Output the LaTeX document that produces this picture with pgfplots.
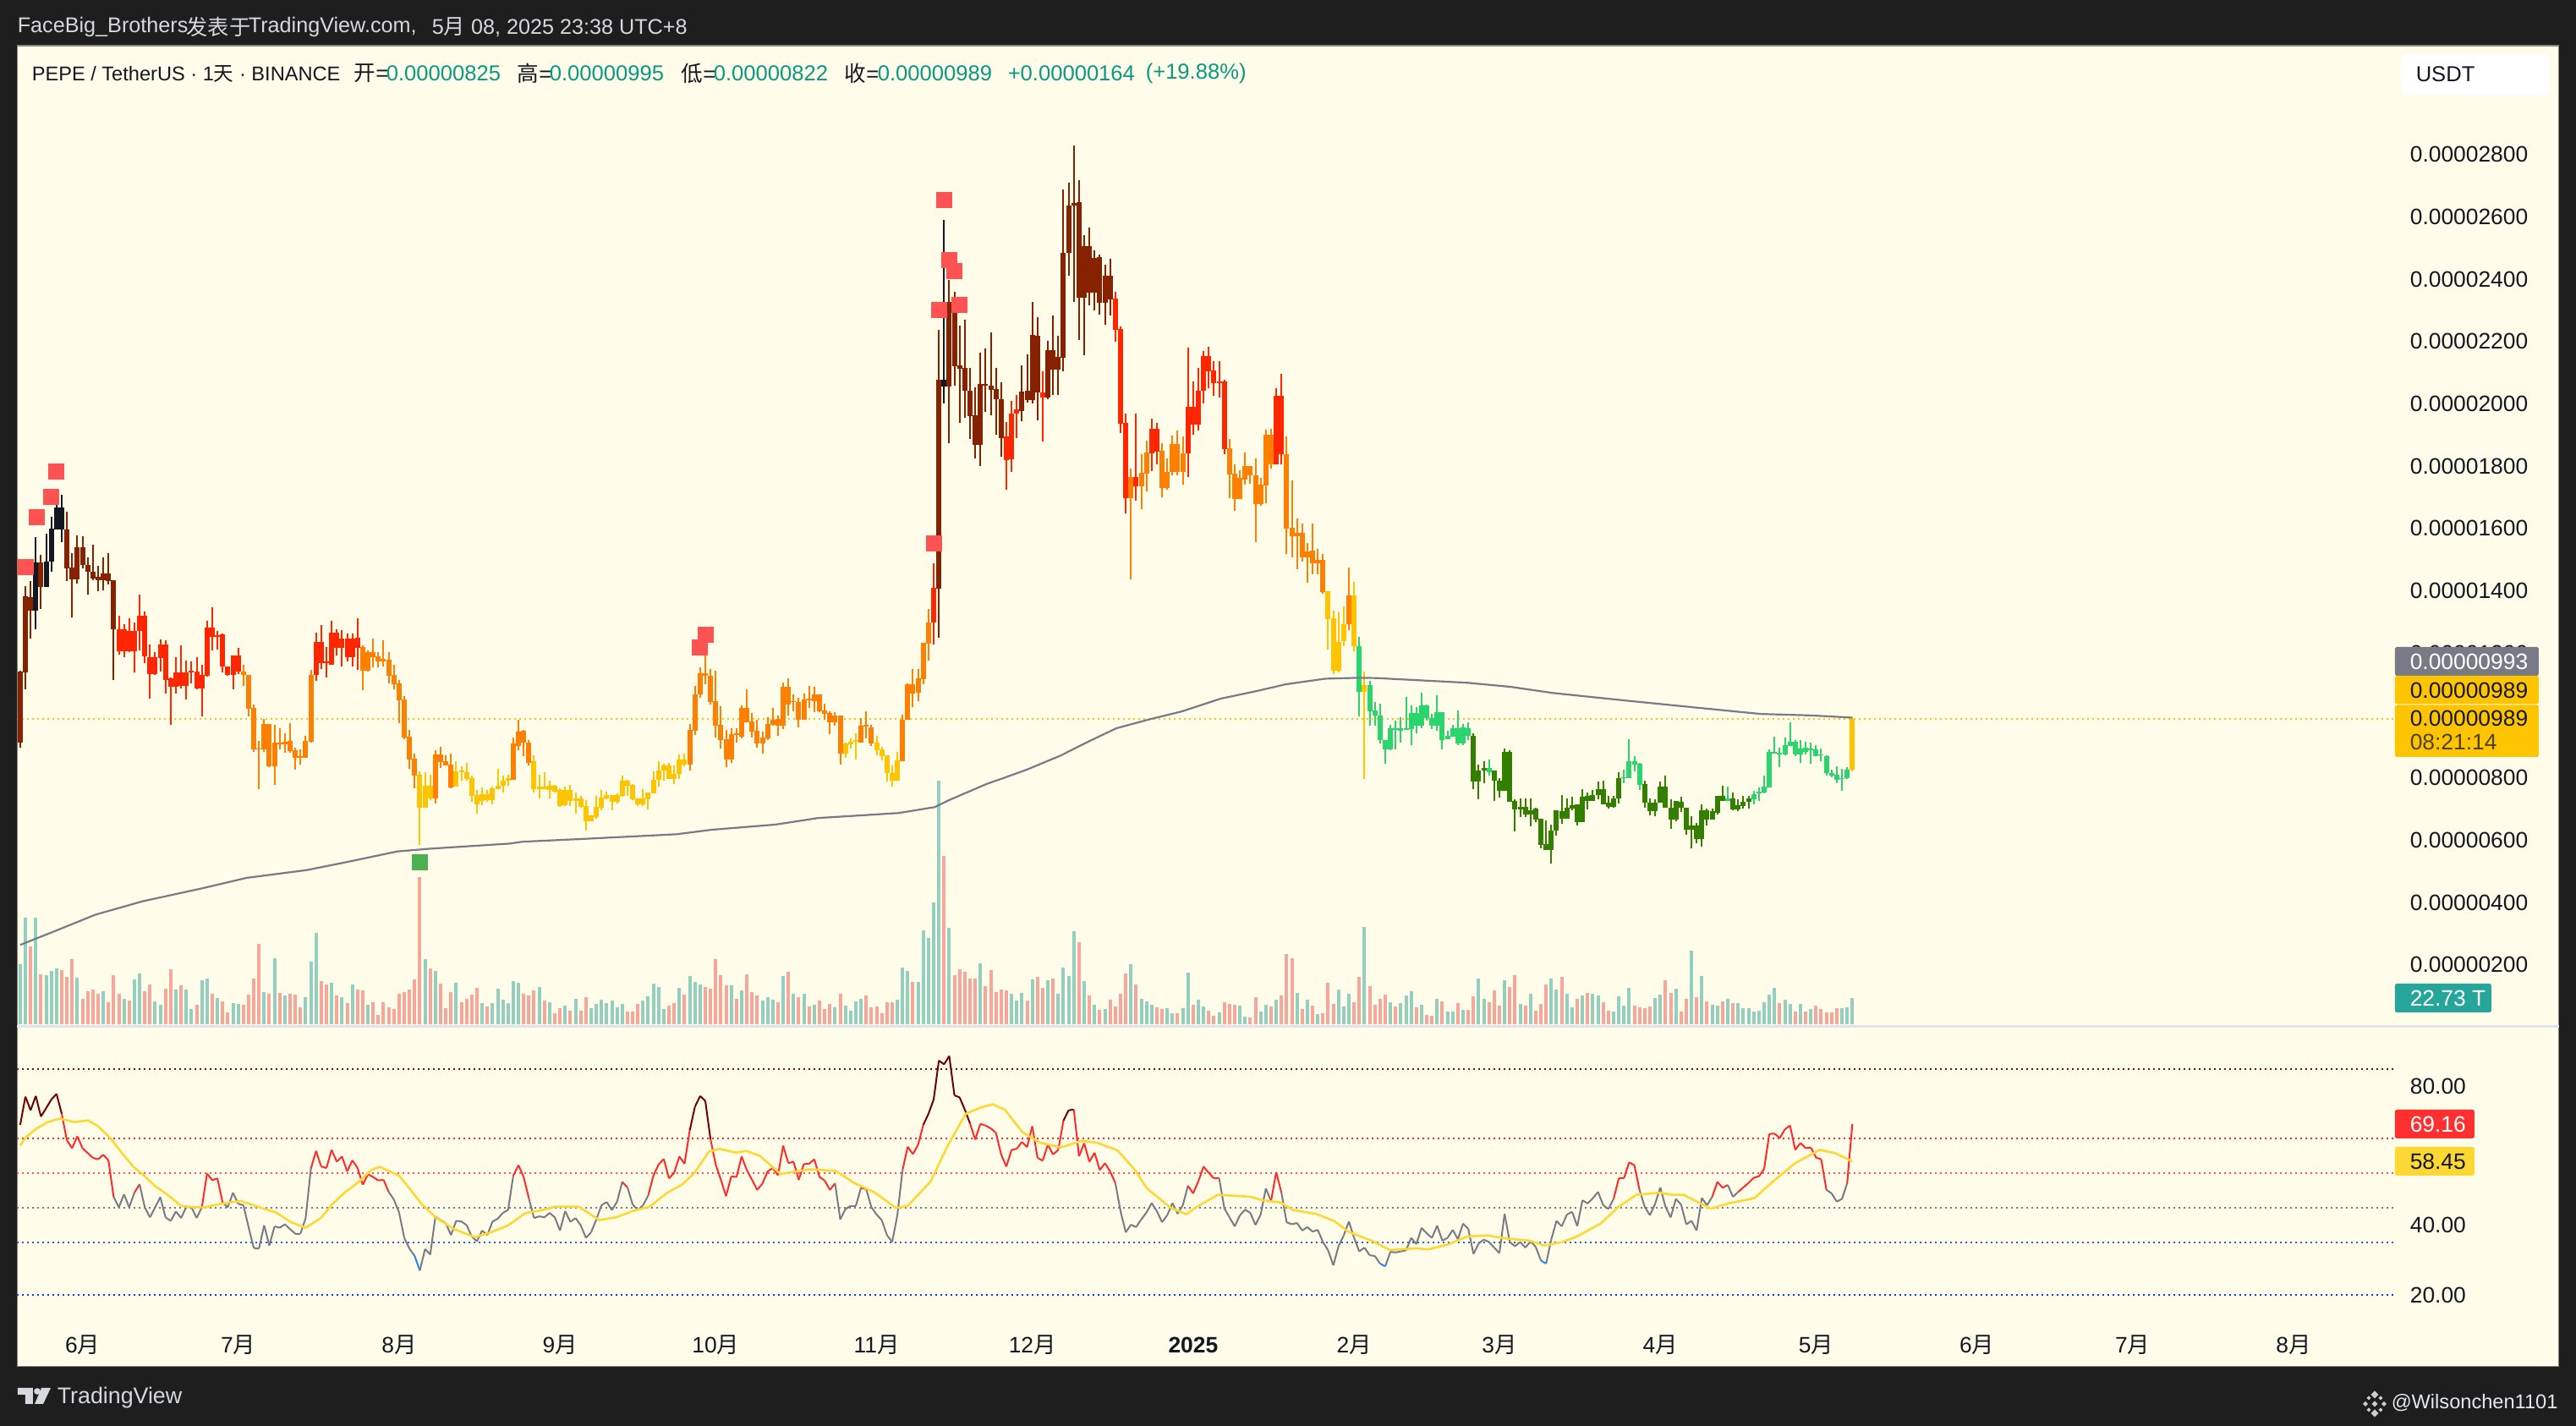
\documentclass[border=0pt]{standalone}
\usepackage{fontspec}
\usepackage{pgfplots}
\usepackage{pgfplotstable}
\pgfplotsset{compat=1.18}
\setmainfont{Liberation Sans}
\newfontfamily\cjk{Noto Sans CJK SC}
\newcommand\fs[1]{\fontsize{#1bp}{#1bp}\selectfont}
\definecolor{darkbg}{HTML}{1E1E1E}
\definecolor{cream}{HTML}{FFFDE9}
\definecolor{frame}{HTML}{85857C}
\definecolor{ink}{HTML}{131722}
\definecolor{lightink}{HTML}{D6D8DE}
\definecolor{upg}{HTML}{089981}
\definecolor{cbrown}{HTML}{862200}
\definecolor{cblack}{HTML}{131722}
\definecolor{cred}{HTML}{FF2600}
\definecolor{corange}{HTML}{FF8000}
\definecolor{cyellow}{HTML}{FFC400}
\definecolor{cgreen}{HTML}{2AD56D}
\definecolor{cdark}{HTML}{338000}
\definecolor{volg}{HTML}{92CFC0}
\definecolor{volr}{HTML}{F7A69B}
\definecolor{sqr}{HTML}{FF5252}
\definecolor{sqg}{HTML}{4CAF50}
\definecolor{gma}{HTML}{787B86}
\definecolor{yma}{HTML}{FDD835}
\definecolor{sepc}{HTML}{E0E3EB}
\definecolor{tealb}{HTML}{26A69A}
\definecolor{redb}{HTML}{FF3030}
\definecolor{lvA}{HTML}{8B0000}
\definecolor{lvB}{HTML}{FF2A2A}
\definecolor{lvE}{HTML}{2962C0}
\definecolor{lvF}{HTML}{0A3CE6}
\definecolor{bnb}{HTML}{CDCDCD}
% i: day index, t/b: body top/bottom, h/l: high/low (1e-6 USDT), c: colour class,
% v: volume (T), k: 0 up 1 down, r: RSI
\pgfplotstableread{
i t b h l c v k r
0 11.40 9.13 11.45 8.97 0 51.6 0 68.9
1 13.83 11.38 14.16 10.84 0 91.8 0 77.0
2 13.80 13.35 14.32 12.48 0 67 1 73.1
3 14.92 13.35 15.73 12.77 1 91.8 0 77.2
4 14.92 14.12 15.16 13.43 0 42.9 1 71.3
5 14.95 14.12 15.84 14.12 1 42.2 0 73.7
6 16.00 14.93 16.38 14.62 1 45.9 0 76.2
7 16.68 15.98 17.23 15.98 1 47.9 0 77.8
8 16.68 15.98 17.09 15.56 1 46.9 1 72.1
9 15.98 14.73 16.55 14.32 0 40.9 1 64.4
10 14.76 14.37 15.22 13.14 0 55.9 1 62.2
11 15.41 14.37 15.78 14.24 0 39.9 0 65.6
12 15.41 14.82 15.76 14.73 0 21.8 1 62.2
13 14.83 14.60 15.07 13.88 0 28.5 1 60.8
14 14.62 14.39 15.49 14.35 0 29.8 1 59.4
15 14.44 14.34 14.79 13.99 0 26.5 1 59.0
16 14.57 14.34 15.07 14.01 0 28.5 0 60.3
17 14.57 14.32 15.22 14.20 0 18.8 1 58.7
18 14.35 12.77 14.35 11.15 0 42.2 1 48.2
19 12.77 12.07 13.21 11.96 2 26.1 1 45.2
20 12.77 12.07 12.94 11.86 2 21.8 0 48.9
21 12.72 12.07 13.13 12.02 2 20.4 1 45.2
22 12.72 12.07 12.99 11.37 2 38.5 0 49.4
23 13.21 12.72 13.89 12.08 2 43.6 0 51.8
24 13.21 11.89 13.34 11.69 2 28.5 1 45.2
25 11.86 11.33 12.29 10.55 2 34.5 1 42.3
26 11.86 11.33 12.02 11.30 2 19.4 0 45.2
27 12.29 11.84 12.44 11.42 2 16.8 0 48.1
28 12.29 11.15 12.40 10.71 2 30.5 1 42.3
29 11.18 10.93 11.23 9.69 2 47.2 1 41.3
30 11.37 10.93 11.88 10.71 2 29.8 0 44.0
31 11.37 10.96 12.26 10.86 2 33.5 1 42.1
32 11.37 10.96 11.76 10.52 2 29.8 0 45.3
33 11.43 11.37 11.73 11.02 2 13.1 0 45.2
34 11.41 10.87 11.86 10.84 2 16.8 1 42.1
35 11.31 10.87 11.64 9.98 2 37.9 0 45.2
36 12.83 11.27 13.05 11.25 2 39.2 0 54.9
37 12.83 12.52 13.48 12.08 2 26.1 1 53.0
38 12.58 12.52 12.72 12.11 2 22.4 0 53.5
39 12.60 11.56 12.64 11.37 2 19.4 1 46.6
40 11.58 11.30 11.58 11.27 2 10 1 45.2
41 11.93 11.30 11.93 10.84 2 18.1 0 49.4
42 11.93 11.40 12.18 11.33 2 17.4 0 46.2
43 11.42 11.30 11.63 10.96 3 16.8 1 45.8
44 11.31 10.22 11.31 9.96 3 25.5 1 39.5
45 10.25 8.90 10.36 8.82 3 39.2 1 33.5
46 8.95 8.90 9.19 7.63 3 69 1 33.3
47 9.73 8.90 9.89 8.84 3 27.5 0 40.0
48 9.74 8.38 9.74 8.34 3 26.1 1 34.2
49 9.13 8.38 9.71 7.76 3 56.6 0 39.7
50 9.13 9.08 9.58 8.90 3 26.8 1 39.3
51 9.17 9.08 9.44 8.80 3 24.8 0 40.3
52 9.19 8.87 9.76 8.80 3 26.5 1 38.9
53 8.89 8.65 8.97 8.26 3 25.5 1 37.6
54 8.70 8.65 8.90 8.43 3 14.4 1 37.6
55 9.19 8.65 9.34 8.63 3 23.1 0 42.1
56 11.31 9.15 11.46 9.12 3 53.9 0 56.3
57 12.37 11.30 12.65 11.11 2 78.7 0 61.4
58 12.37 11.69 12.89 11.50 2 37.2 1 56.9
59 11.73 11.69 12.20 11.21 2 34.2 1 56.5
60 12.67 11.62 13.05 11.62 2 35.5 0 61.7
61 12.67 12.18 12.77 11.92 2 24.8 1 58.3
62 12.48 12.18 12.73 11.56 2 23.5 0 59.8
63 12.48 11.86 12.64 11.73 2 18.1 1 55.5
64 12.48 11.86 12.64 11.58 2 34.2 0 58.7
65 12.50 12.18 13.13 11.46 2 29.8 1 56.5
66 12.20 11.43 12.26 10.82 3 29.1 1 51.7
67 12.02 11.43 12.08 11.40 3 16.8 0 54.7
68 12.02 11.87 12.48 11.55 3 18.8 1 53.9
69 11.89 11.73 12.02 11.55 3 8 1 52.9
70 11.82 11.73 12.42 11.58 3 18.8 1 53.1
71 11.79 11.27 12.04 11.02 3 14.4 1 49.6
72 11.31 11.00 11.63 10.84 3 13.1 1 47.4
73 11.02 10.49 11.15 9.75 3 26.1 1 43.7
74 10.52 9.28 10.61 9.24 3 27.5 1 36.4
75 9.32 8.59 9.53 8.28 3 29.8 1 33.3
76 8.62 8.08 8.78 7.66 3 38.5 1 31.2
77 8.09 7.03 8.22 5.85 4 127.3 1 27.0
78 7.75 7.03 8.19 7.03 4 55.9 0 33.2
79 7.75 7.35 8.09 7.28 4 47.9 1 31.6
80 8.74 7.35 8.88 7.18 3 45.9 0 42.5
81 8.74 8.50 9.00 8.31 3 34.8 1 41.5
82 8.53 8.40 8.72 8.40 3 13.7 1 40.6
83 8.43 7.70 8.78 7.66 3 27.5 1 37.2
84 8.22 7.72 8.53 7.72 4 35.5 0 41.3
85 8.24 8.19 8.38 7.91 4 18.8 1 41.1
86 8.19 7.97 8.47 7.91 4 21.8 1 40.1
87 8.00 7.41 8.06 7.22 4 25.5 1 36.8
88 7.45 7.16 7.60 6.86 4 31.2 1 35.4
89 7.47 7.26 7.70 7.12 4 18.1 0 38.5
90 7.47 7.28 7.60 7.22 4 15.1 1 37.2
91 7.66 7.28 7.72 7.16 4 18.1 0 41.1
92 7.75 7.65 8.28 7.65 4 30.5 0 41.9
93 7.91 7.75 8.06 7.53 4 21.1 0 43.6
94 7.98 7.91 8.09 7.75 4 18.1 0 44.4
95 9.09 7.94 9.30 7.94 3 37.2 0 54.3
96 9.49 9.03 9.86 8.88 3 35.5 0 57.3
97 9.50 9.13 9.53 8.69 3 26.1 1 53.9
98 9.13 8.49 9.22 8.41 3 24.8 1 47.8
99 8.52 7.63 8.71 7.53 4 29.1 1 42.1
100 7.71 7.63 8.09 7.35 4 31.8 0 42.6
101 7.71 7.63 8.19 7.63 4 20.4 1 42.3
102 7.75 7.60 7.91 7.35 4 18.8 0 43.6
103 7.75 7.56 7.78 7.53 4 9.4 1 42.3
104 7.60 7.10 7.66 7.06 4 13.7 1 38.5
105 7.62 7.13 7.72 7.10 4 16.1 0 44.1
106 7.62 7.25 7.76 7.10 4 11.4 1 41.0
107 7.35 7.25 7.53 6.85 4 21.8 0 42.1
108 7.35 7.07 7.41 7.03 4 11.4 1 40.0
109 7.10 6.62 7.28 6.32 4 23.1 1 36.4
110 6.79 6.62 6.79 6.62 4 13.7 0 38.0
111 7.06 6.75 7.41 6.70 4 17.4 0 41.7
112 7.37 7.04 7.62 6.97 4 21.1 0 45.8
113 7.45 7.35 7.56 7.31 4 18.1 0 46.7
114 7.45 7.22 7.45 6.97 4 20.4 0 44.4
115 7.45 7.22 7.50 7.18 4 14.4 0 46.8
116 7.91 7.41 8.06 7.38 4 17.4 0 52.5
117 7.91 7.75 7.94 7.41 4 10.7 1 50.9
118 7.76 7.31 7.81 7.28 4 10.7 1 46.0
119 7.35 7.16 7.35 7.10 4 17.4 1 44.4
120 7.35 7.16 7.63 7.10 4 20.4 0 45.8
121 7.53 7.31 7.53 6.99 4 23.8 0 48.6
122 7.94 7.51 8.22 7.51 4 34.8 0 54.3
123 8.24 7.93 8.53 7.72 4 31.8 0 57.5
124 8.41 8.24 8.44 7.91 4 13.1 0 59.1
125 8.41 7.97 8.49 7.97 4 16.1 1 53.5
126 8.13 7.97 8.41 7.81 4 18.1 1 55.1
127 8.60 8.13 8.76 7.95 4 31.2 0 59.8
128 8.60 8.42 8.79 8.37 4 25.4 1 57.7
129 9.54 8.42 9.74 8.23 3 41.5 0 67.3
130 10.69 9.51 10.94 9.37 3 36.2 0 74.1
131 11.36 10.68 11.55 10.56 3 34.2 0 77.2
132 11.36 11.27 11.95 10.99 3 31.9 1 75.8
133 11.28 10.42 11.50 10.35 3 30.4 1 64.8
134 10.47 9.66 11.45 9.28 3 56.1 1 57.5
135 9.69 9.21 10.31 8.93 3 42.2 1 53.1
136 9.23 8.60 9.54 8.34 3 33.4 1 48.4
137 9.39 8.60 9.60 8.49 3 33.4 0 54.1
138 9.42 9.37 9.60 9.14 3 21.6 1 53.9
139 10.23 9.33 10.33 9.26 3 28.9 0 59.8
140 10.23 9.77 10.83 9.77 3 42.7 1 55.9
141 9.80 9.47 10.07 9.30 3 27.4 1 53.1
142 9.50 9.09 9.86 8.98 3 24.6 1 50.2
143 9.30 9.09 9.47 8.79 3 20.1 0 52.0
144 9.74 9.27 9.94 9.21 3 23.1 0 55.5
145 9.87 9.70 10.23 9.68 3 20.9 0 56.5
146 9.90 9.66 10.00 9.35 3 18.9 1 54.4
147 10.91 9.66 11.07 9.56 3 41.5 0 62.9
148 10.91 10.35 11.18 10.00 3 45 1 57.9
149 10.47 10.43 10.68 10.13 3 26.1 0 58.3
150 10.44 9.85 10.56 9.63 3 23.1 1 53.1
151 10.52 9.85 10.71 9.85 3 26.1 0 57.7
152 10.53 10.49 10.94 10.24 3 15.1 1 57.7
153 10.67 10.47 10.91 10.10 3 16.6 0 59.0
154 10.69 10.14 10.69 10.10 3 20.1 1 53.9
155 10.17 10.05 10.37 9.85 3 12.8 1 52.9
156 10.07 9.77 10.13 9.40 3 17.3 1 50.2
157 9.99 9.77 10.10 9.68 3 14.3 0 52.1
158 9.99 8.77 9.99 8.43 3 26.1 1 41.7
159 9.10 8.77 9.12 8.63 4 15.8 0 44.7
160 9.16 9.07 9.27 8.93 4 11.6 0 45.6
161 9.20 9.15 9.44 8.58 4 19.6 0 45.6
162 9.67 9.13 9.93 9.12 3 21.6 0 50.8
163 9.69 9.65 10.13 9.27 3 24.6 1 50.4
164 9.63 9.09 9.71 9.02 3 14.3 1 45.2
165 9.12 8.88 9.35 8.72 4 15.1 1 43.1
166 8.90 8.70 9.00 8.56 4 9.3 1 41.5
167 8.72 8.15 8.72 7.87 4 18.9 1 37.2
168 8.16 7.90 8.39 7.71 4 18.9 1 35.2
169 8.55 7.90 8.82 7.90 4 20.9 0 42.9
170 9.87 8.53 10.03 8.53 3 48.8 0 55.9
171 10.99 9.86 11.03 9.86 3 45.8 0 62.6
172 10.99 10.71 11.48 10.27 3 36.2 1 60.5
173 11.20 10.73 11.48 10.45 3 36.2 0 63.2
174 12.32 11.16 12.32 10.99 3 80.7 0 68.9
175 12.99 12.30 13.43 11.75 3 74.2 0 72.1
176 14.10 12.97 14.87 12.29 2 104.8 0 76.2
177 20.76 14.06 22.38 12.50 0 209.9 0 87.4
178 20.78 20.56 25.91 20.02 1 145 1 86.3
179 23.28 20.56 23.96 18.74 0 83 0 88.7
180 23.28 21.21 23.60 20.58 0 42.2 1 77.4
181 21.24 21.13 22.52 19.40 0 47.3 1 76.8
182 21.16 20.41 22.71 19.54 0 45 1 73.3
183 20.43 19.61 21.16 18.88 0 39.2 1 69.3
184 19.64 18.69 20.53 18.26 0 39.2 1 64.7
185 20.63 18.69 21.65 17.99 0 52.3 0 69.2
186 20.63 20.57 21.78 19.73 0 32.7 1 68.7
187 20.58 20.44 22.30 19.64 0 46.5 1 67.9
188 20.46 20.14 21.16 19.00 0 27.4 1 66.6
189 20.16 18.91 20.70 18.29 0 29.9 1 60.4
190 18.94 18.20 19.42 17.25 2 29.2 1 56.9
191 19.69 18.23 20.10 17.82 2 26.3 0 61.7
192 19.81 19.68 20.29 18.91 2 20.4 0 62.0
193 20.40 19.78 21.24 19.45 0 27 0 64.0
194 20.43 20.13 21.59 20.05 0 20.4 1 62.5
195 22.22 20.13 23.28 20.02 0 38.7 0 68.5
196 22.19 20.36 22.79 19.48 0 40.9 1 59.4
197 20.37 20.20 21.03 18.80 2 31.4 1 58.6
198 21.73 20.20 22.03 20.16 0 38 0 63.2
199 21.73 21.11 22.84 20.27 0 39.4 1 60.4
200 21.51 21.11 22.19 20.29 0 26.3 0 61.7
201 24.83 21.48 26.88 21.05 0 48.9 0 70.1
202 26.37 24.83 27.10 24.12 0 41.6 0 73.1
203 26.43 26.35 28.30 23.28 0 80.3 0 73.3
204 26.46 23.41 27.18 22.04 0 70.8 1 59.9
205 25.07 23.41 25.42 21.57 0 37.2 0 63.6
206 25.07 23.57 25.66 23.17 0 24.8 1 58.3
207 24.69 23.57 24.93 23.00 0 16.8 0 60.9
208 24.71 23.25 24.80 22.87 0 12.4 1 55.9
209 24.10 23.25 24.47 22.54 0 13.1 0 57.9
210 24.12 23.34 24.66 22.84 0 21.2 1 55.5
211 23.38 22.36 23.60 22.00 2 15.3 1 52.2
212 22.39 19.37 22.49 19.07 2 26.3 1 44.1
213 19.40 16.98 19.69 16.49 2 43.8 1 38.0
214 17.64 16.98 17.91 14.38 3 51.8 0 40.2
215 17.64 17.34 19.69 16.90 2 34.3 1 39.5
216 17.79 17.34 18.39 16.63 3 21.9 0 41.7
217 18.45 17.77 18.83 17.20 3 19.7 0 43.7
218 19.21 18.40 19.51 17.85 2 16.8 0 46.4
219 19.21 18.47 19.40 18.06 2 14.6 1 44.1
220 18.50 17.31 18.74 17.01 3 13.1 1 40.9
221 17.82 17.31 18.26 17.23 3 13.9 0 42.9
222 18.72 17.82 18.99 17.70 3 9.5 0 46.4
223 18.72 17.82 19.15 17.70 3 9.5 1 43.3
224 18.42 17.82 18.96 17.41 3 13.9 0 45.8
225 19.91 18.40 21.81 17.66 2 44.5 0 51.4
226 19.91 19.32 20.73 19.00 2 16.8 1 49.2
227 20.43 19.32 21.14 19.15 2 21.2 0 52.7
228 21.54 20.41 21.70 20.02 2 15.3 0 56.9
229 21.54 21.05 21.84 20.49 2 11.7 1 55.1
230 21.08 20.65 21.36 20.26 2 7.3 1 53.5
231 20.72 20.65 21.36 20.21 2 10.2 0 53.6
232 20.72 18.54 20.78 18.39 2 19 1 44.9
233 18.56 17.74 18.88 16.96 3 17.5 1 42.3
234 17.77 16.94 18.06 16.57 3 16.8 1 39.7
235 17.61 16.94 17.87 16.94 3 16.1 0 42.9
236 17.99 17.58 18.45 17.41 3 6.6 0 44.5
237 17.99 17.70 17.99 17.44 3 5.8 1 43.6
238 17.71 16.79 18.26 15.57 3 23.4 1 40.1
239 17.41 16.79 17.61 16.74 3 10.9 0 43.1
240 19.01 17.38 19.18 16.82 3 16.8 0 50.6
241 19.01 18.05 19.21 17.91 3 15.3 1 47.0
242 20.26 18.06 20.49 18.06 2 21.2 0 55.3
243 20.26 18.37 20.97 18.06 2 24.8 1 49.4
244 18.39 15.99 18.96 15.17 3 60.6 1 40.9
245 16.01 15.74 17.55 15.08 3 56.9 1 40.3
246 15.87 15.74 16.33 14.70 3 27 0 40.7
247 15.87 15.08 16.15 14.94 3 13.1 1 38.5
248 15.27 15.08 15.54 14.27 3 21.2 0 39.5
249 15.30 14.87 16.15 14.54 3 16.1 1 38.2
250 15.00 14.87 15.35 14.54 3 8.8 0 38.7
251 15.00 13.95 15.17 13.90 3 9.5 1 35.2
252 13.99 13.09 13.99 12.11 4 35.8 1 32.8
253 13.11 11.43 13.36 11.32 4 17.5 1 28.5
254 12.36 11.43 13.31 11.39 4 29.9 0 34.0
255 12.92 12.38 13.49 12.21 4 15.3 0 37.1
256 13.86 12.92 14.76 12.75 3 26.3 0 41.1
257 13.86 12.22 14.29 12.05 4 19 1 36.4
258 12.23 10.75 12.53 9.98 5 40.9 1 32.5
259 10.98 10.75 11.41 7.96 4 83.9 0 33.6
260 10.98 10.13 11.10 9.67 5 32.8 1 31.4
261 10.15 10.00 10.44 9.67 5 16.8 1 31.2
262 10.00 9.20 10.38 9.11 5 21.9 1 29.0
263 9.20 8.90 9.20 8.45 5 25.5 1 28.2
264 9.58 8.90 9.69 8.88 5 19 0 32.4
265 9.58 9.53 9.83 8.90 5 15.3 1 32.2
266 9.58 9.50 9.95 9.13 5 18.2 0 32.5
267 9.60 9.55 10.60 9.55 5 24.8 0 32.8
268 10.09 9.56 10.33 9.06 5 28.5 0 36.4
269 10.09 9.67 10.26 9.44 5 14.6 1 34.6
270 10.32 9.67 10.73 9.60 5 16.8 0 39.3
271 10.32 9.92 10.36 9.83 5 8 1 37.7
272 9.92 9.67 10.04 9.56 5 7.3 1 36.4
273 10.12 9.67 10.66 9.51 5 21.9 0 39.9
274 10.12 9.22 10.12 8.90 5 19.7 1 35.6
275 9.35 9.24 9.51 9.24 5 10.9 0 36.4
276 9.60 9.33 9.71 9.33 5 10.9 0 38.7
277 9.60 9.09 10.15 9.04 5 18.2 1 36.0
278 9.62 9.09 9.74 9.06 5 12.4 0 40.5
279 9.60 9.35 9.79 9.20 5 12.4 1 39.0
280 9.35 7.87 9.42 7.63 6 24.1 1 31.8
281 8.23 7.87 8.43 7.30 6 39.4 0 34.8
282 8.32 8.23 8.52 7.82 6 21.9 0 35.9
283 8.32 8.19 8.59 8.07 5 19 1 35.2
284 8.23 7.90 8.23 7.27 6 29.2 1 33.6
285 7.92 7.57 8.00 7.36 6 16.1 1 32.0
286 8.82 7.57 8.95 7.57 6 38 0 43.3
287 8.84 7.23 8.88 7.23 6 32.1 1 35.2
288 7.25 6.98 7.30 6.27 6 42.3 1 34.0
289 7.07 6.98 7.34 6.75 6 17.5 0 35.2
290 7.07 6.82 7.34 6.75 6 16.1 1 33.6
291 6.96 6.82 7.34 6.44 6 26.3 0 35.4
292 7.00 6.65 7.05 6.57 6 11.7 1 33.8
293 6.68 5.84 6.68 5.73 6 17.5 1 29.9
294 5.87 5.68 6.64 5.68 6 34.3 1 29.0
295 6.32 5.68 6.51 5.26 6 39.4 0 36.0
296 6.96 6.30 6.96 6.14 6 29.9 0 41.3
297 6.94 6.68 7.45 6.53 6 40.9 1 39.7
298 7.05 6.68 7.34 6.68 6 26.3 0 43.1
299 7.13 7.02 7.38 6.96 6 14.6 0 43.9
300 7.14 6.57 7.14 6.47 6 21.9 1 39.8
301 7.38 6.57 7.63 6.57 6 24.8 0 47.2
302 7.41 7.25 7.52 6.98 6 27 1 46.3
303 7.45 7.25 7.61 7.25 6 26.3 0 47.8
304 7.65 7.45 7.89 7.30 6 24.8 0 49.6
305 7.65 7.16 7.90 7.16 6 19 1 45.8
306 7.21 7.07 7.41 7.00 6 11.7 1 44.7
307 7.34 7.07 7.42 7.03 6 10.9 0 47.6
308 7.98 7.33 8.18 7.18 6 24.1 0 53.5
309 8.02 7.98 8.25 7.84 5 16.1 0 53.6
310 8.52 8.00 9.24 7.98 5 31.4 0 58.1
311 8.52 8.43 8.70 8.20 5 16.1 1 57.3
312 8.45 7.77 8.47 7.61 5 14.6 1 50.2
313 7.79 7.19 7.90 7.05 6 13.9 1 45.3
314 7.21 6.92 7.34 6.80 6 15.3 1 42.9
315 7.19 6.92 7.30 6.76 6 22.6 0 46.2
316 7.73 7.19 7.89 7.19 6 25.5 0 50.9
317 7.73 7.03 8.07 7.03 6 38 1 45.3
318 7.05 6.67 7.30 6.37 6 27 1 42.3
319 7.25 6.67 7.25 6.60 6 30.7 0 47.6
320 7.24 7.03 7.39 6.91 6 10.9 1 46.0
321 7.05 6.33 7.05 6.17 6 21.9 1 40.3
322 6.46 6.33 6.78 5.73 6 63.5 0 41.3
323 6.46 6.03 6.55 5.91 6 23.4 1 38.5
324 6.96 6.03 7.14 5.79 6 41.6 0 47.9
325 6.96 6.67 7.00 6.48 6 19.7 1 45.8
326 6.94 6.67 7.00 6.67 6 16.8 0 48.2
327 7.43 6.89 7.43 6.82 6 16.1 0 52.5
328 7.43 7.25 7.75 7.25 6 19.7 1 50.8
329 7.34 7.25 7.72 7.25 5 21.9 0 51.6
330 7.34 6.98 7.54 6.95 6 18.2 1 48.2
331 7.13 6.98 7.30 6.94 6 18.2 0 49.6
332 7.23 7.10 7.43 7.01 6 13.9 0 50.9
333 7.34 7.23 7.41 7.00 6 13.9 0 52.2
334 7.48 7.30 7.57 7.16 5 10.9 0 53.7
335 7.55 7.51 7.70 7.27 5 11.7 0 54.1
336 7.72 7.52 8.07 7.50 5 19 0 56.2
337 8.82 7.70 8.90 7.70 5 25.5 0 66.3
338 8.84 8.79 9.31 8.79 5 31.4 0 66.4
339 8.81 8.74 8.97 8.34 5 18.2 1 65.1
340 9.06 8.74 9.29 8.72 5 21.2 0 67.6
341 9.17 9.02 9.79 9.02 5 17.5 0 68.7
342 9.17 8.74 9.20 8.70 5 10.9 1 61.7
343 8.95 8.74 9.20 8.47 5 17.5 0 63.7
344 8.97 8.83 9.17 8.74 5 10.9 1 62.2
345 8.93 8.88 9.13 8.45 5 13.1 0 62.4
346 8.90 8.70 9.06 8.70 5 16.1 1 59.5
347 8.74 8.72 8.93 8.54 5 13.1 1 59.0
348 8.69 8.15 8.73 8.07 5 10.2 1 50.2
349 8.16 8.07 8.27 8.02 5 10.2 1 49.2
350 8.09 7.93 8.36 7.84 5 13.9 1 46.8
351 8.00 7.95 8.29 7.58 5 13.9 0 47.6
352 8.25 7.98 8.34 7.96 5 14.6 0 52.1
353 9.89 8.25 9.95 8.22 4 22.73 0 69.16
}\bars
\newcommand\candles[2]{%
\addplot[forget plot,draw=none,mark=none,restrict expr to domain={\thisrow{c}}{#1:#1},
  error bars/.cd,y dir=plus,y explicit,error mark=none,
  error bar style={line width=.5bp,color=#2,solid}]
  table[x=i,y=l,y error expr=\thisrow{h}-\thisrow{l}]{\bars};
\addplot[forget plot,draw=none,mark=none,restrict expr to domain={\thisrow{c}}{#1:#1},
  error bars/.cd,y dir=plus,y explicit,error mark=none,
  error bar style={line width=1.5bp,color=#2,solid}]
  table[x=i,y=b,y error expr=\thisrow{t}-\thisrow{b}]{\bars};
}
\pgfplotsset{
  base/.style={scale only axis,width=702.65bp,xmin=-0.57,xmax=457.4,
    anchor=south west,axis line style={draw=none},tick style={draw=none},
    major tick length=0pt,clip=true},
  dotted line/.style={line width=.5bp,dash pattern=on .5bp off 1bp,forget plot},
}
\begin{document}
\begin{tikzpicture}
\fill[darkbg] (0,0) rectangle (761.5bp,421.5bp);
\useasboundingbox (0,0) rectangle (761.5bp,421.5bp);
\begin{scope}[x=.25bp,y=-.25bp,yshift=421.5bp]
\fill[cream,draw=frame,line width=.4bp] (20.4,54) rectangle (3025.7,1615.7);
\fill[white,rounded corners=1.5bp] (2840,64) rectangle (3015,113);
\end{scope}
% volume
\begin{axis}[base,at={(5.1bp,118.25bp)},height=289.75bp,hide axis,ymin=-1.5,ymax=844.6]
\addplot[ycomb,draw=volg,line width=1bp,mark=none,restrict expr to domain={\thisrow{k}}{0:0}] table[x=i,y=v]{\bars};
\addplot[ycomb,draw=volr,line width=1bp,mark=none,restrict expr to domain={\thisrow{k}}{1:1}] table[x=i,y=v]{\bars};
\end{axis}
% price
\begin{axis}[base,at={(5.1bp,118.25bp)},height=289.75bp,ymin=0.04,ymax=31.49,
  xtick=\empty,yticklabel pos=right,
  ytick={2,4,6,8,12,14,16,18,20,22,24,26,28},
  yticklabels={0.00000200,0.00000400,0.00000600,0.00000800,0.00001200,0.00001400,0.00001600,0.00001800,0.00002000,0.00002200,0.00002400,0.00002600,0.00002800},
  yticklabel style={anchor=west,inner sep=0pt,xshift=4.5bp,font=\fs{6.6},text=ink}]
\addplot[cyellow,dotted line] coordinates {(-0.57,9.89)(457.4,9.89)};
\candles{0}{cbrown}
\candles{1}{cblack}
\candles{2}{cred}
\candles{3}{corange}
\candles{4}{cyellow}
\candles{5}{cgreen}
\candles{6}{cdark}
\addplot[gma,line width=.55bp,forget plot] coordinates {
(0,2.64)(6.2,3.05)(14.5,3.61)(23.6,4.04)(35.2,4.46)(43.6,4.79)(55.2,5.04)(62.7,5.29)(72.7,5.64)(79.3,5.73)(94.3,5.89)(96.8,5.95)(108.4,6.04)(126.5,6.19)(133,6.33)(145.5,6.5)(153.7,6.71)(169.2,6.87)(176.2,7.06)(178.9,7.28)(186.3,7.81)(188.4,7.93)(193.9,8.26)(200.4,8.71)(205.9,9.17)(211.2,9.59)(217.2,9.86)(223.8,10.13)(231.3,10.54)(238.4,10.79)(243.8,11.0)(251.4,11.18)(258,11.21)(261.4,11.2)(278.8,11.05)(287.1,10.92)(295.4,10.72)(308.7,10.49)(323.7,10.24)(335.3,10.05)(345.3,10.0)(353,9.93)};
\addplot[only marks,mark=square*,mark size=2.25bp,color=sqr,mark options={draw=sqr,fill=sqr,line width=0pt},forget plot] coordinates {
(1,14.77)(3.2,16.36)(6,17.01)(7,17.84)(131,12.18)(132,12.58)(178,26.55)(179,24.6)(180,24.25)(177,23.02)(181,23.16)(176,15.51)};
\addplot[only marks,mark=square*,mark size=2.25bp,color=sqg,mark options={draw=sqg,fill=sqg,line width=0pt},forget plot] coordinates {(77,5.28)};
\end{axis}
% RSI
\begin{axis}[base,at={(5.1bp,29.5bp)},height=88.5bp,ymin=11,ymax=97.1,
  xtick={12,42,73,104,134,165,195,226,257,285,316,346,377,407,438},
  xticklabels={6{\cjk 月},7{\cjk 月},8{\cjk 月},9{\cjk 月},10{\cjk 月},11{\cjk 月},12{\cjk 月},\textbf{2025},2{\cjk 月},3{\cjk 月},4{\cjk 月},5{\cjk 月},6{\cjk 月},7{\cjk 月},8{\cjk 月}},
  xticklabel style={anchor=center,inner sep=0pt,yshift=-5.5bp,font=\fs{6.6},text=ink},
  ytick={20,40,80},yticklabels={20.00,40.00,80.00},yticklabel pos=right,
  yticklabel style={anchor=west,inner sep=0pt,xshift=4.5bp,font=\fs{6.6},text=ink},
  colormap={rsi}{rgb255(0pt)=(30,136,255); rgb255(1pt)=(120,123,134); rgb255(2pt)=(255,42,42); rgb255(3pt)=(112,0,0); rgb255(4pt)=(112,0,0)},
  colormap access=piecewise constant,point meta min=10,point meta max=90]
\addplot[color=lvA,dotted line] coordinates {(-0.57,85)(457.4,85)};
\addplot[color=lvB,dotted line] coordinates {(-0.57,65)(457.4,65)};
\addplot[color=sqr,dotted line] coordinates {(-0.57,55)(457.4,55)};
\addplot[color=gma,dotted line] coordinates {(-0.57,45)(457.4,45)};
\addplot[color=lvE,dotted line] coordinates {(-0.57,35)(457.4,35)};
\addplot[color=lvF,dotted line] coordinates {(-0.57,20)(457.4,20)};
\addplot[mesh,point meta=y,line width=.5bp,forget plot] table[x=i,y=r]{\bars};
\addplot[yma,line width=.65bp,forget plot] coordinates {
(0,63.0)(1,65.2)(3,67.7)(5.3,69.7)(7.6,70.7)(10.5,69.7)(13.1,70.2)(15,68.5)(17.3,65.2)(19.6,60.8)(21.9,56.7)(23.6,54.7)(25.9,51.4)(28.2,49.0)(31,45.6)(33.3,45.2)(35.6,45.2)(39,46.3)(42.5,47.0)(46.5,45.0)(49.3,43.7)(52.2,40.9)(55,39.3)(57.9,42.1)(60.2,46.2)(62.5,49.4)(65.3,52.6)(67.6,55.9)(69.3,56.8)(73,54.3)(75,50.6)(77.3,46.2)(80.2,42.1)(83.6,38.9)(87.6,36.6)(90.5,37.9)(93.9,39.9)(97.3,43.5)(100.7,44.4)(103,45.4)(107.6,45.4)(111.6,41.5)(115,42.4)(117.9,44.1)(121.3,45.4)(124.7,49.4)(127.6,51.8)(129.9,55.1)(132.7,61.2)(134.7,62.0)(137.9,60.9)(139.9,61.4)(142.5,60.0)(146.5,54.8)(152.2,56.1)(157.1,55.7)(160.7,52.2)(164.7,49.4)(168.7,45.0)(171,45.6)(175.4,52.6)(178.8,63.2)(182.2,72.1)(185.1,73.9)(187.4,74.8)(189.7,73.3)(193.1,66.8)(196.5,63.8)(200.5,62.4)(204.5,64.3)(207.4,63.8)(211.4,61.6)(214.8,55.9)(217.1,50.6)(221.7,45.0)(224.7,43.2)(226.8,45.4)(230.8,48.8)(237.1,48.2)(239.4,47.2)(242.8,46.6)(245.3,44.4)(249.7,43.3)(253.1,41.3)(256,38.1)(260.5,35.5)(263.9,32.9)(269,33.4)(271.3,33.1)(275.3,34.6)(278.8,36.8)(282.8,37.1)(285.7,36.3)(290.8,35.6)(293.7,34.2)(297.1,35.2)(299.8,36.7)(304.5,40.5)(308,45.4)(311.4,48.8)(316,49.4)(318.2,48.8)(320.5,48.8)(325.7,44.8)(329.1,46.3)(334.1,47.8)(337.7,52.6)(342,57.9)(346.7,61.7)(349.6,60.8)(353,58.45)};
\end{axis}
\begin{scope}[x=.25bp,y=-.25bp,yshift=421.5bp,every node/.style={inner sep=0pt,anchor=west}]
% separator
\fill[sepc] (20.4,1212) rectangle (3025.7,1215);
% title bar
\begin{scope}[every node/.append style={text=lightink,font=\fs{6.3}}]
\node at (20,32) {FaceBig\_Brothers};
\node at (220,32) {\cjk 发表于};
\node at (293,32) {TradingView.com,};
\node at (510,32) {5{\cjk 月} 08, 2025 23:38 UTC+8};
\end{scope}
% legend line
\begin{scope}[every node/.append style={font=\fs{6.4}}]
\node[text=ink,font=\fs{5.9}] at (37,87) {PEPE / TetherUS · 1{\cjk 天} · BINANCE};
\node[text=ink] at (418,87) {{\cjk 开}=};
\node[text=upg] at (456,87) {0.00000825};
\node[text=ink] at (611,87) {{\cjk 高}=};
\node[text=upg] at (649,87) {0.00000995};
\node[text=ink] at (805,87) {{\cjk 低}=};
\node[text=upg] at (843,87) {0.00000822};
\node[text=ink] at (998,87) {{\cjk 收}=};
\node[text=upg] at (1037,87) {0.00000989};
\node[text=upg] at (1191,87) {+0.00000164};
\node[text=upg] at (1354,87) {(+19.88\%)};
\node[text=ink] at (2856,88) {USDT};
\end{scope}
% price labels
\fill[gma,rounded corners=.6bp] (2832,765) rectangle (3002,799);
\fill[cyellow,rounded corners=.6bp] (2832,799) rectangle (3002,832.5);
\fill[cyellow,rounded corners=.6bp] (2832,833.5) rectangle (3002,895);
\fill[tealb,rounded corners=.6bp] (2832,1163) rectangle (2946,1197);
\begin{scope}[every node/.append style={font=\fs{6.6}}]
\node[text=white] at (2849,782) {0.00000993};
\node[text=ink] at (2849,816) {0.00000989};
\node[text=ink] at (2849,849.5) {0.00000989};
\node[text=ink!75!cyellow] at (2849,877) {08:21:14};
\node[text=white] at (2849,1180) {22.73 T};
\end{scope}
% RSI labels
\fill[redb,rounded corners=.6bp] (2832,1312) rectangle (2926,1346);
\fill[yma,rounded corners=.6bp] (2832,1356) rectangle (2926,1390);
\begin{scope}[every node/.append style={font=\fs{6.6}}]
\node[text=white] at (2849,1329) {69.16};
\node[text=ink] at (2849,1373) {58.45};
\end{scope}
% footer
\fill[lightink] (21,1641) -- (39,1641) -- (39,1660) -- (30,1660) -- (30,1649) -- (21,1649) -- cycle;
\fill[lightink] (44,1645) circle[radius=3.8];
\fill[lightink] (49,1641) -- (60,1641) -- (51,1660) -- (41,1660) -- cycle;
\node[text=lightink,font=\fs{6.7}] at (67,1653) {TradingView};
\foreach \dx/\dy/\r in {0/0/3.5, -11/0/3, 11/0/3, 0/-11/4.5, 0/11/4.5, -7/-7/2.5, 7/-7/2.5, -7/7/2.5, 7/7/2.5}
  \fill[bnb] (2808+\dx,1660+\dy-\r) -- ++(\r,\r) -- ++(-\r,\r) -- ++(-\r,-\r) -- cycle;
\node[text=lightink!60!white,font=\fs{5.9}] at (2827,1659) {@Wilsonchen1101};
\end{scope}
\end{tikzpicture}
\end{document}
